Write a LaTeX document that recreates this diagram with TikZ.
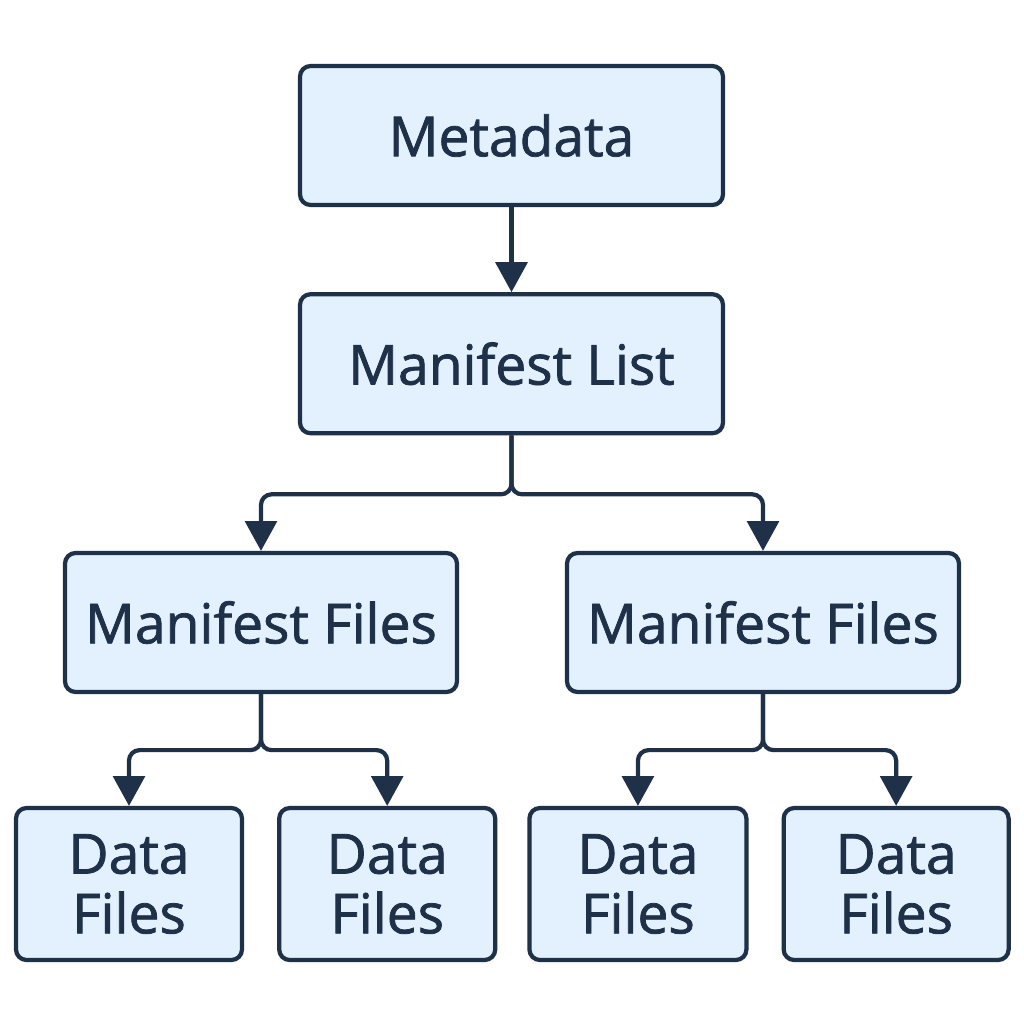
\documentclass[tikz,border=0pt]{standalone}
\usepackage{fontspec}
\setmainfont{Open Sans}[UprightFeatures = {FakeBold = 1.4}]
\usetikzlibrary{arrows.meta, positioning}
\definecolor{boxfill}{HTML}{E3F0FD}
\definecolor{boxline}{HTML}{1F3049}
\tikzstyle{rect} = [rectangle,
			draw = boxline,
			fill = boxfill,
			line width = 1.2pt,
			rounded corners = 3pt,
			text = boxline,
			text centered,
			inner sep = 0pt,
			minimum height = 1.39cm,
			font = \fontsize{15.7}{17}\selectfont]
\tikzstyle{drect} = [rect,
			align = center,
			minimum height = 1.52cm,
			font = \fontsize{15.7}{17}\selectfont]
\tikzstyle{line} = [draw = boxline, line width = 1.2pt, rounded corners = 3pt,
			-{Triangle[width=9pt, length=8.5pt]}]

\begin{document}
\begin{tikzpicture}
	\useasboundingbox [fill=white] (0,0) rectangle (10.24,-10.24);
	\node [rect, minimum width = 4.23cm] (meta) at (5.115,-1.355) {Metadata};
	\node [rect, minimum width = 4.23cm, below=0.85cm of meta] (list) {Manifest List};
	\node [rect, minimum width = 3.92cm] (mfl) at (2.61,-6.225) {Manifest Files};
	\node [rect, minimum width = 3.92cm] (mfr) at (7.63,-6.225) {Manifest Files};
	\node [drect, minimum width = 2.26cm] (d1) at (1.29,-8.84) {Data\\Files};
	\node [drect, minimum width = 2.16cm, right=0.33cm of d1] (d2) {Data\\Files};
	\node [drect, minimum width = 2.17cm, right=0.30cm of d2] (d3) {Data\\Files};
	\node [drect, minimum width = 2.25cm, right=0.33cm of d3] (d4) {Data\\Files};
	\path [line] (meta) -- (list);
	\path [line] (list.south) -- ++(0,-0.59) -| (mfl.north);
	\path [line] (list.south) -- ++(0,-0.59) -| (mfr.north);
	\path [line] (mfl.south) -- ++(0,-0.56) -| (d1.north);
	\path [line] (mfl.south) -- ++(0,-0.56) -| (d2.north);
	\path [line] (mfr.south) -- ++(0,-0.56) -| (d3.north);
	\path [line] (mfr.south) -- ++(0,-0.56) -| (d4.north);
\end{tikzpicture}
\end{document}
